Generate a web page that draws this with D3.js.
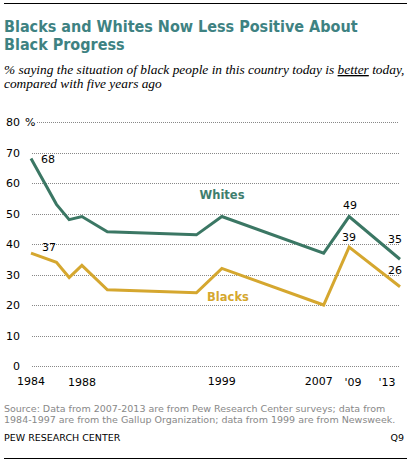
<!DOCTYPE html>
<html>
<head>
<meta charset="utf-8">
<script src="https://cdn.jsdelivr.net/npm/d3@7"></script>
<style>
  body { margin: 0; background: #fff; }
  svg { display: block; }
</style>
</head>
<body>
<div id="chart"></div>
<script>
// data
const years = [1984, 1986, 1987, 1988, 1990, 1997, 1999, 2007, 2009, 2013];
const whites = [68, 53, 48, 49, 44, 43, 49, 37, 49, 35];
const blacks = [37, 34, 29, 33, 25, 24, 32, 20, 39, 26];
const yTicks = [0, 10, 20, 30, 40, 50, 60, 70, 80];
const xTicks = [1984, 1988, 1999, 2007, 2009, 2013];
const xTickLabels = ["1984", "1988", "1999", "2007", "'09", "'13"];

const width = 411, height = 462;
const sans = "Verdana, 'DejaVu Sans', sans-serif";

const svg = d3.select("#chart").append("svg")
  .attr("width", width)
  .attr("height", height);

const x = d3.scaleLinear().domain([1984, 2013]).range([31, 400]);
const y = d3.scaleLinear().domain([0, 80]).range([366, 122]);

// top and bottom rules
svg.append("line").attr("x1", 4).attr("x2", 407).attr("y1", 3.5).attr("y2", 3.5)
  .attr("stroke", "#000").attr("stroke-width", 1);
svg.append("line").attr("x1", 4).attr("x2", 407).attr("y1", 458.5).attr("y2", 458.5)
  .attr("stroke", "#000").attr("stroke-width", 1);

// title
const title = svg.append("text")
  .attr("font-family", "'DejaVu Sans Condensed', 'DejaVu Sans', sans-serif")
  .attr("font-weight", "bold")
  .attr("font-size", 16)
  .attr("fill", "#3e8282");
title.append("tspan").attr("x", 4).attr("y", 32).text("Blacks and Whites Now Less Positive About");
title.append("tspan").attr("x", 4).attr("y", 50).text("Black Progress");

// subtitle
const sub = svg.append("text")
  .attr("font-family", "'Liberation Serif', serif")
  .attr("font-style", "italic")
  .attr("font-size", 14)
  .attr("fill", "#000");
const l1 = sub.append("tspan").attr("x", 4).attr("y", 74);
l1.append("tspan").text("% saying the situation of black people in this country today is ");
l1.append("tspan").attr("text-decoration", "underline").text("better");
l1.append("tspan").text(" today,");
sub.append("tspan").attr("x", 4).attr("y", 88).text("compared with five years ago");
// shrink the subtitle so its first line spans the same width as the reference
const subW = l1.node().getComputedTextLength();
sub.attr("font-size", 14 * 401 / subW);

// gridlines
svg.append("g")
  .selectAll("line")
  .data(yTicks)
  .enter().append("line")
  .attr("x1", d => d === 80 ? 37 : 32)
  .attr("x2", 399)
  .attr("y1", d => Math.round(y(d)) + 0.5)
  .attr("y2", d => Math.round(y(d)) + 0.5)
  .attr("stroke", "#888")
  .attr("stroke-width", 1)
  .attr("stroke-dasharray", "1,1");

// y axis labels
svg.append("g")
  .selectAll("text")
  .data(yTicks)
  .enter().append("text")
  .attr("x", 20)
  .attr("y", d => y(d) + 4)
  .attr("text-anchor", "end")
  .attr("font-family", sans)
  .attr("font-size", 11)
  .text(d => d);
svg.append("text")
  .attr("x", 25).attr("y", y(80) + 4)
  .attr("font-family", sans).attr("font-size", 11)
  .text("%");

// x axis labels
const xNudge = {2007: -5, 2009: 4, 2013: -13};
svg.append("g")
  .selectAll("text")
  .data(xTicks)
  .enter().append("text")
  .attr("x", d => x(d) + (xNudge[d] || 0))
  .attr("y", (d, i) => (d === 1984 || d === 1999 || d === 2007) ? 385 : 386)
  .attr("text-anchor", "middle")
  .attr("font-family", sans)
  .attr("font-size", 11)
  .text((d, i) => xTickLabels[i]);

// lines
const line = d3.line()
  .x((d, i) => x(years[i]))
  .y(d => y(d));

svg.append("path")
  .datum(whites)
  .attr("fill", "none")
  .attr("stroke", "#3b7764")
  .attr("stroke-width", 3)
  .attr("stroke-linejoin", "miter")
  .attr("d", line);

svg.append("path")
  .datum(blacks)
  .attr("fill", "none")
  .attr("stroke", "#d5a72f")
  .attr("stroke-width", 3)
  .attr("stroke-linejoin", "miter")
  .attr("d", line);

// series labels
svg.append("text")
  .attr("x", 222).attr("y", 199)
  .attr("text-anchor", "middle")
  .attr("font-family", sans).attr("font-weight", "bold").attr("font-size", 11.5)
  .attr("fill", "#3e7e6e")
  .text("Whites");
svg.append("text")
  .attr("x", 228).attr("y", 301)
  .attr("text-anchor", "middle")
  .attr("font-family", sans).attr("font-weight", "bold").attr("font-size", 11.5)
  .attr("fill", "#d5a72f")
  .text("Blacks");

// value labels
const valueLabels = [
  {i: 0, v: whites[0], dx: 10, dy: 0, anchor: "start"},
  {i: 0, v: blacks[0], dx: 11, dy: -6, anchor: "start"},
  {i: 8, v: whites[8], dx: 1, dy: -12, anchor: "middle"},
  {i: 8, v: blacks[8], dx: 0, dy: -10, anchor: "middle"},
  {i: 9, v: whites[9], dx: -5, dy: -20, anchor: "middle"},
  {i: 9, v: blacks[9], dx: -5, dy: -17, anchor: "middle"}
];
svg.append("g")
  .selectAll("text")
  .data(valueLabels)
  .enter().append("text")
  .attr("x", d => x(years[d.i]) + d.dx)
  .attr("y", d => y(d.v) + d.dy + 4)
  .attr("text-anchor", d => d.anchor)
  .attr("font-family", sans)
  .attr("font-size", 11)
  .text(d => d.v);

// footer
const src = svg.append("text")
  .attr("font-family", sans)
  .attr("font-size", 9.5)
  .attr("fill", "#888");
src.append("tspan").attr("x", 4).attr("y", 412)
  .text("Source: Data from 2007-2013 are from Pew Research Center surveys; data from");
src.append("tspan").attr("x", 4).attr("y", 423)
  .text("1984-1997 are from the Gallup Organization; data from 1999 are from Newsweek.");

svg.append("text")
  .attr("x", 4).attr("y", 441)
  .attr("font-family", sans).attr("font-size", 9.5)
  .text("PEW RESEARCH CENTER");
svg.append("text")
  .attr("x", 404).attr("y", 441)
  .attr("text-anchor", "end")
  .attr("font-family", sans).attr("font-size", 9.5)
  .text("Q9");
</script>
</body>
</html>
